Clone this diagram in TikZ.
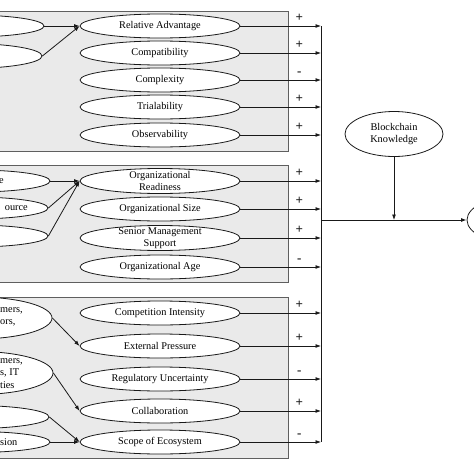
\documentclass[tikz,border=0pt]{standalone}
\usepackage{fontspec}
\setmainfont{Liberation Serif}
\usepackage{tikz}
\usetikzlibrary{arrows.meta, shapes.geometric, positioning}
\definecolor{panelgray}{RGB}{234, 234, 234}
\definecolor{paneledge}{RGB}{95, 95, 95}
\definecolor{linkblack}{RGB}{25, 25, 25}

\begin{document}
\begin{tikzpicture}[x=1pt, y=-1pt,
    panel/.style={draw=paneledge, line width=1pt, fill=panelgray},
    oval/.style={draw=linkblack, ellipse, fill=white, line width=0.8pt, minimum width=160pt, minimum height=24pt,
        inner xsep=0pt, inner ysep=-4pt, align=center, font=\fontsize{10.3}{12}\selectfont},
    side/.style={oval, minimum width=150pt},
    cut/.style={inner sep=0pt, align=left, font=\fontsize{10.3}{12.5}\selectfont},
    link/.style={linkblack, line width=0.8pt, -{Latex[length=5.5pt, width=4pt]}},
    sgn/.style={font=\bfseries\fontsize{13}{14}\selectfont, inner sep=1pt}]
    \useasboundingbox (0,0) rectangle (474,474);
    \clip (0,0) rectangle (474,474);

    % Technology panel
    \draw[panel] (-10,11) rectangle (288,151);
    \node[side, minimum height=22pt] (l1a) at (-31,26) {};
    \node[side, minimum height=25pt] (l1b) at (-33,56) {};
    \node[oval] (radv) at (160,26) {Relative Advantage};
    \node[oval] (compat) at (160,53) {Compatibility};
    \node[oval] (cplx) at (160,80) {Complexity};
    \node[oval] (trial) at (160,107) {Trialability};
    \node[oval] (obs) at (160,135) {Observability};
    \draw[link] (l1a.east) -- (radv.west);
    \draw[link] (l1b.east) -- (radv.west);

    % Organization panel
    \draw[panel] (-10,165) rectangle (288,282);
    \node[side, minimum height=22pt] (l2a) at (-25,181) {};
    \node[side, minimum height=22pt] (l2b) at (-27,208) {};
    \node[side, minimum height=22pt] (l2c) at (-27,236) {};
    \node[cut, anchor=east] at (4,181) {e};
    \node[cut, anchor=east] at (28,208) {ource};
    \node[oval, minimum height=25pt] (ordready) at (160,181) {Organizational\\Readiness};
    \node[oval] (orgsize) at (160,209) {Organizational Size};
    \node[oval, minimum height=25pt] (senior) at (160,238) {Senior Management\\Support};
    \node[oval] (orgage) at (160,267) {Organizational Age};
    \draw[link] (l2a.east) -- (ordready.west);
    \draw[link] (l2b.east) -- (ordready.west);
    \draw[link] (l2c.east) -- (ordready.west);

    % Environment panel
    \draw[panel] (-10,297) rectangle (288,458);
    \node[side, minimum height=42pt] (l3a) at (-23,318) {};
    \node[side, minimum height=43pt] (l3b) at (-22,373) {};
    \node[side, minimum height=23pt] (l3c) at (-26,417) {};
    \node[side, minimum height=21pt] (l3d) at (-25,442) {};
    \node[cut, anchor=west] at (0,317) {mers,\\ors,};
    \node[cut, anchor=west] at (0,373.5) {mers,\\s,\ IT\\ties};
    \node[cut, anchor=west] at (0,442) {sion};
    \node[oval] (comp) at (160,313) {Competition Intensity};
    \node[oval] (extp) at (160,346) {External Pressure};
    \node[oval] (reguc) at (160,379) {Regulatory Uncertainty};
    \node[oval] (collab) at (160,411) {Collaboration};
    \node[oval] (scope) at (160,442) {Scope of Ecosystem};
    \draw[link] (l3a.east) -- (extp.west);
    \draw[link] (l3b.east) -- (collab.west);
    \draw[link] (l3c.east) -- (scope.west);
    \draw[link] (l3d.east) -- (scope.west);

    % Collector line and signs
    \coordinate (bustop) at (321,26);
    \coordinate (busbot) at (321,442);
    \draw[linkblack, line width=1pt] (bustop) -- (busbot);
    \foreach \n/\s in {radv/+, compat/+, cplx/-, trial/+, obs/+, ordready/+, orgsize/+, senior/+, orgage/-,
        comp/+, extp/+, reguc/-, collab/+, scope/-}
        \draw[link] (\n.east) -- node[sgn, pos=.73, above=3pt] {\s} (\n.east -| bustop);

    % Moderator and outcome
    \node[oval, minimum width=98pt, minimum height=45pt, inner ysep=0pt] (bck) at (394,134) {Blockchain\\Knowledge};
    \node[oval, minimum width=110pt, minimum height=50pt] (adopt) at (522,220) {};
    \draw[link, line width=1pt] (bustop |- adopt) -- (adopt.west);
    \draw[link] (bck.south) -- (bck.south |- adopt);
\end{tikzpicture}
\end{document}
